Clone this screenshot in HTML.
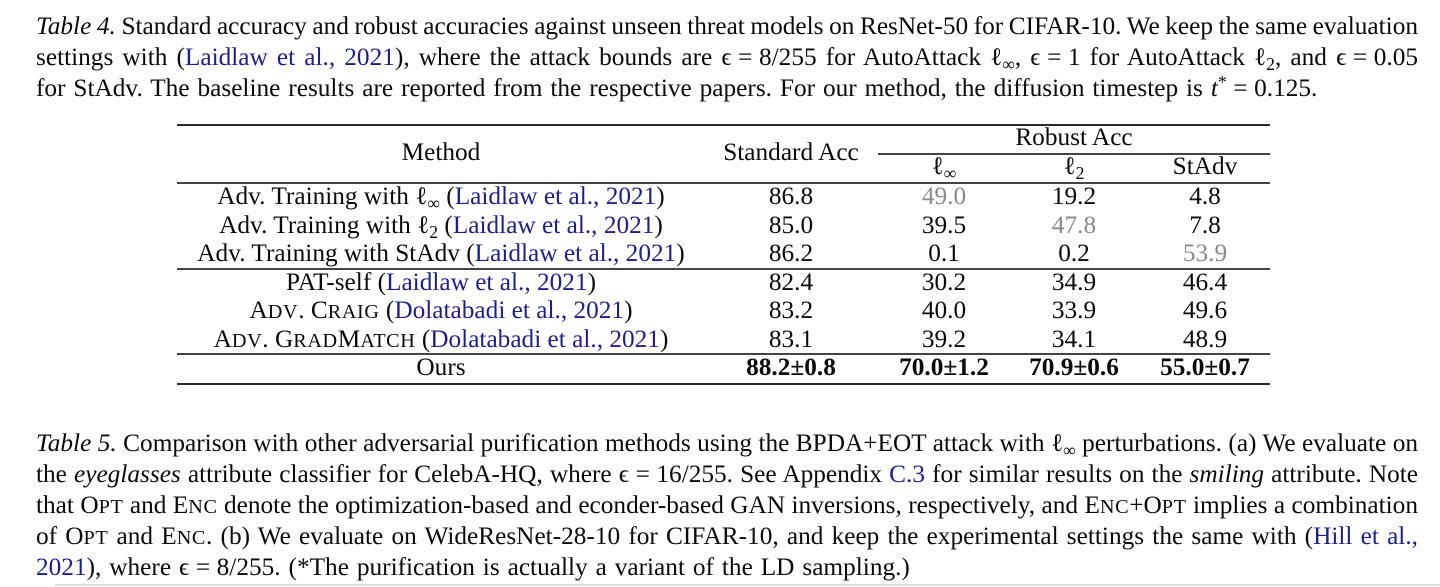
<!DOCTYPE html>
<html>
<head>
<meta charset="utf-8">
<style>
  html, body { margin:0; padding:0; background:#fff; }
  body { width:1440px; height:587px; position:relative; overflow:hidden;
         font-family:"Liberation Serif","DejaVu Serif",serif; color:#0a0a0a; }
  .ln { position:absolute; left:36px; width:1382px; font-size:25.3px; line-height:31px;
        white-space:nowrap; word-spacing:1.6px; }
  .j { text-align:justify; text-align-last:justify; white-space:normal; word-spacing:-5px; }
  .b { color:#1f1f8a; }
  .i { font-style:italic; }
  .s { font-size:0.8em; letter-spacing:0.6px; }
  .m { line-height:0; display:inline-block; margin:0 0.26em; }
  .m0 { line-height:0; display:inline-block; word-spacing:0; }
  .g { color:#8a8a8a; }
  sub { font-size:0.7em; line-height:0; vertical-align:-0.28em; }
  sup { font-size:0.7em; line-height:0; vertical-align:0.45em; }
  .c { position:absolute; width:600px; margin-left:-300px; text-align:center;
       font-size:25.3px; line-height:31px; white-space:nowrap; }
  .bd { font-weight:bold; }
  .rule { position:absolute; left:177px; width:1093px; background:#333; }
</style>
</head>
<body>

<!-- Caption Table 4 -->
<div class="ln j" style="top:11px"><span class="i">Table 4.</span> Standard accuracy and robust accuracies against unseen threat models on ResNet-50 for CIFAR-10. We keep the same evaluation</div>
<div class="ln j" style="top:42px">settings with (<span class="b">Laidlaw et al., 2021</span>), where the attack bounds are <span class="m0">ϵ<span class="m">=</span>8/255</span> for AutoAttack <span class="m0">ℓ<sub>∞</sub>,</span> <span class="m0">ϵ<span class="m">=</span>1</span> for AutoAttack <span class="m0">ℓ<sub>2</sub>,</span> and <span class="m0">ϵ<span class="m">=</span>0.05</span></div>
<div class="ln" style="top:73px">for StAdv. The baseline results are reported from the respective papers. For our method, the diffusion timestep is <span class="i">t</span><sup>*</sup><span class="m">=</span>0.125.</div>

<!-- Table rules -->
<div class="rule" style="top:124px;height:2px;background:#2a2a2a"></div>
<div class="rule" style="top:153px;height:2px;left:878px;width:392px;background:#444"></div>
<div class="rule" style="top:182px;height:2px;background:#444"></div>
<div class="rule" style="top:268px;height:2px;background:#444"></div>
<div class="rule" style="top:353px;height:2px;background:#444"></div>
<div class="rule" style="top:383px;height:2px;background:#2a2a2a"></div>

<!-- Header -->
<div class="c" style="left:441px;top:137px">Method</div>
<div class="c" style="left:791px;top:137px">Standard Acc</div>
<div class="c" style="left:1074px;top:122px">Robust Acc</div>
<div class="c" style="left:944px;top:151px"><span class="m0">ℓ<sub>∞</sub></span></div>
<div class="c" style="left:1074px;top:151px"><span class="m0">ℓ<sub>2</sub></span></div>
<div class="c" style="left:1205px;top:151px">StAdv</div>

<!-- Rows -->
<div class="c" style="left:441px;top:181px">Adv. Training with <span class="m0">ℓ<sub>∞</sub></span> (<span class="b">Laidlaw et al., 2021</span>)</div>
<div class="c" style="left:791px;top:181px">86.8</div>
<div class="c g" style="left:944px;top:181px">49.0</div>
<div class="c" style="left:1074px;top:181px">19.2</div>
<div class="c" style="left:1205px;top:181px">4.8</div>

<div class="c" style="left:441px;top:209.5px">Adv. Training with <span class="m0">ℓ<sub>2</sub></span> (<span class="b">Laidlaw et al., 2021</span>)</div>
<div class="c" style="left:791px;top:209.5px">85.0</div>
<div class="c" style="left:944px;top:209.5px">39.5</div>
<div class="c g" style="left:1074px;top:209.5px">47.8</div>
<div class="c" style="left:1205px;top:209.5px">7.8</div>

<div class="c" style="left:441px;top:238px">Adv. Training with StAdv (<span class="b">Laidlaw et al., 2021</span>)</div>
<div class="c" style="left:791px;top:238px">86.2</div>
<div class="c" style="left:944px;top:238px">0.1</div>
<div class="c" style="left:1074px;top:238px">0.2</div>
<div class="c g" style="left:1205px;top:238px">53.9</div>

<div class="c" style="left:441px;top:266.6px">PAT-self (<span class="b">Laidlaw et al., 2021</span>)</div>
<div class="c" style="left:791px;top:266.6px">82.4</div>
<div class="c" style="left:944px;top:266.6px">30.2</div>
<div class="c" style="left:1074px;top:266.6px">34.9</div>
<div class="c" style="left:1205px;top:266.6px">46.4</div>

<div class="c" style="left:441px;top:295.2px">A<span class="s">DV</span>. C<span class="s">RAIG</span> (<span class="b">Dolatabadi et al., 2021</span>)</div>
<div class="c" style="left:791px;top:295.2px">83.2</div>
<div class="c" style="left:944px;top:295.2px">40.0</div>
<div class="c" style="left:1074px;top:295.2px">33.9</div>
<div class="c" style="left:1205px;top:295.2px">49.6</div>

<div class="c" style="left:441px;top:323.8px">A<span class="s">DV</span>. G<span class="s">RAD</span>M<span class="s">ATCH</span> (<span class="b">Dolatabadi et al., 2021</span>)</div>
<div class="c" style="left:791px;top:323.8px">83.1</div>
<div class="c" style="left:944px;top:323.8px">39.2</div>
<div class="c" style="left:1074px;top:323.8px">34.1</div>
<div class="c" style="left:1205px;top:323.8px">48.9</div>

<div class="c" style="left:441px;top:352.4px">Ours</div>
<div class="c bd" style="left:791px;top:352.4px">88.2±0.8</div>
<div class="c bd" style="left:944px;top:352.4px">70.0±1.2</div>
<div class="c bd" style="left:1074px;top:352.4px">70.9±0.6</div>
<div class="c bd" style="left:1205px;top:352.4px">55.0±0.7</div>

<!-- Caption Table 5 -->
<div class="ln j" style="top:427.5px"><span class="i">Table 5.</span> Comparison with other adversarial purification methods using the BPDA+EOT attack with <span class="m0">ℓ<sub>∞</sub></span> perturbations. (a) We evaluate on</div>
<div class="ln j" style="top:458.5px">the <span class="i">eyeglasses</span> attribute classifier for CelebA-HQ, where <span class="m0">ϵ<span class="m">=</span>16/255.</span> See Appendix <span class="b">C.3</span> for similar results on the <span class="i">smiling</span> attribute. Note</div>
<div class="ln j" style="top:489.5px">that O<span class="s">PT</span> and E<span class="s">NC</span> denote the optimization-based and econder-based GAN inversions, respectively, and E<span class="s">NC</span>+O<span class="s">PT</span> implies a combination</div>
<div class="ln j" style="top:520.5px">of O<span class="s">PT</span> and E<span class="s">NC</span>. (b) We evaluate on WideResNet-28-10 for CIFAR-10, and keep the experimental settings the same with (<span class="b">Hill et al.,</span></div>
<div class="ln" style="top:551.5px"><span class="b">2021</span>), where <span class="m0">ϵ<span class="m">=</span>8/255.</span> (*The purification is actually a variant of the LD sampling.)</div>

<div style="position:absolute;left:55px;top:584px;width:1385px;height:2px;background:#e2e2e2"></div>

</body>
</html>
